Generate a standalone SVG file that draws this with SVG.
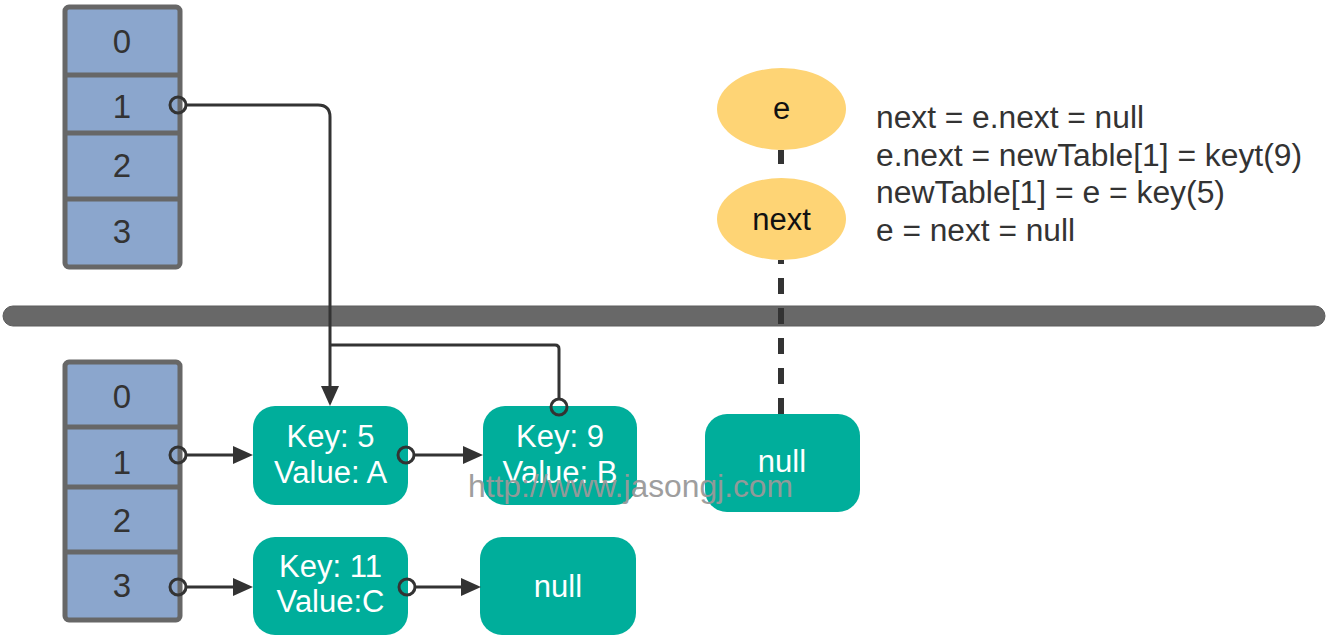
<svg xmlns="http://www.w3.org/2000/svg" width="1328" height="636" viewBox="0 0 1328 636">
<style>
.tbl{fill:#8ba6cd;stroke:#676767;stroke-width:5}
.div{stroke:#676767;stroke-width:5}
.dig{font-family:"Liberation Sans",Arial,sans-serif;font-size:33px;fill:#333;text-anchor:middle}
.node{fill:#00ae9b}
.nt{font-family:"Liberation Sans",Arial,sans-serif;font-size:31px;fill:#fff;text-anchor:middle}
.ell{fill:#fed475}
.et{font-family:"Liberation Sans",Arial,sans-serif;font-size:31px;fill:#111;text-anchor:middle}
.code{font-family:"Liberation Sans",Arial,sans-serif;font-size:31px;fill:#333}
.ln{fill:none;stroke:#333;stroke-width:3}
.dot{fill:none;stroke:#333;stroke-width:3}
.dash{fill:none;stroke:#333;stroke-width:6}
.wm{font-family:"Liberation Sans",Arial,sans-serif;font-size:31px;fill:#999;opacity:0.95}
</style>
<defs>
<marker id="arr" markerUnits="userSpaceOnUse" markerWidth="20" markerHeight="20" refX="4" refY="10" orient="auto">
<path d="M0,1 L20,10 L0,19 z" fill="#333"/>
</marker>
</defs>
<rect width="1328" height="636" fill="#fff"/>

<g id="divider">
<rect x="3" y="306" width="1322" height="20" rx="10" fill="#686868" stroke="#5c5c5c" stroke-width="1"/>
</g>

<g id="old-table">
<rect class="tbl" x="65" y="7" width="115" height="260" rx="4"/>
<line class="div" x1="65" y1="75" x2="180" y2="75"/>
<line class="div" x1="65" y1="133" x2="180" y2="133"/>
<line class="div" x1="65" y1="199" x2="180" y2="199"/>
<text class="dig" x="122" y="53">0</text>
<text class="dig" x="122" y="118">1</text>
<text class="dig" x="122" y="177">2</text>
<text class="dig" x="122" y="243">3</text>
</g>

<g id="new-table">
<rect class="tbl" x="65" y="362" width="115" height="258" rx="4"/>
<line class="div" x1="65" y1="427" x2="180" y2="427"/>
<line class="div" x1="65" y1="487" x2="180" y2="487"/>
<line class="div" x1="65" y1="552" x2="180" y2="552"/>
<text class="dig" x="122" y="408">0</text>
<text class="dig" x="122" y="474">1</text>
<text class="dig" x="122" y="532">2</text>
<text class="dig" x="122" y="597">3</text>
</g>

<g id="node-key5">
<rect class="node" x="253" y="406" width="155" height="99" rx="22"/>
<text class="nt" x="330.5" y="447">Key: 5</text>
<text class="nt" x="330.5" y="483">Value: A</text>
</g>
<g id="node-key9">
<rect class="node" x="483" y="406" width="154" height="99" rx="22"/>
<text class="nt" x="560" y="447">Key: 9</text>
<text class="nt" x="560" y="483">Value: B</text>
</g>
<g id="node-null-right">
<rect class="node" x="705" y="414" width="155" height="98" rx="22"/>
<text class="nt" x="782" y="472">null</text>
</g>
<g id="node-key11">
<rect class="node" x="253" y="537" width="155" height="98" rx="22"/>
<text class="nt" x="330.5" y="577">Key: 11</text>
<text class="nt" x="330.5" y="612">Value:C</text>
</g>
<g id="node-null-bottom">
<rect class="node" x="480" y="537" width="156" height="98" rx="22"/>
<text class="nt" x="558" y="597">null</text>
</g>

<g id="node-e">
<ellipse class="ell" cx="781.5" cy="109" rx="64.5" ry="41"/>
<text class="et" x="781.5" y="119">e</text>
</g>
<g id="node-next">
<ellipse class="ell" cx="781.5" cy="219" rx="64.5" ry="41"/>
<text class="et" x="781.5" y="230">next</text>
</g>

<g id="connectors">
<path class="ln" d="M186,105 H318 Q330,105 330,117 V390" marker-end="url(#arr)"/>
<path class="ln" d="M559,399 V349 Q559,345 555,345 H330"/>
<path class="ln" d="M186,455 H237" marker-end="url(#arr)"/>
<path class="ln" d="M414,455 H467" marker-end="url(#arr)"/>
<path class="ln" d="M186,587 H237" marker-end="url(#arr)"/>
<path class="ln" d="M415,587 H465" marker-end="url(#arr)"/>
<circle class="dot" cx="178" cy="105" r="8"/>
<circle class="dot" cx="178" cy="455" r="8"/>
<circle class="dot" cx="406" cy="455" r="8"/>
<circle class="dot" cx="178" cy="587" r="8"/>
<circle class="dot" cx="407" cy="587" r="8"/>
<circle class="dot" cx="559" cy="407" r="8"/>
<path class="dash" d="M781,150 V178" stroke-dasharray="14 16"/>
<path class="dash" d="M781,260 V414" stroke-dasharray="16 14" stroke-dashoffset="12"/>
</g>

<g id="code">
<text class="code" x="876" y="128" textLength="268" lengthAdjust="spacingAndGlyphs">next = e.next = null</text>
<text class="code" x="876" y="166" textLength="426" lengthAdjust="spacingAndGlyphs">e.next = newTable[1] = keyt(9)</text>
<text class="code" x="876" y="203" textLength="349" lengthAdjust="spacingAndGlyphs">newTable[1] = e = key(5)</text>
<text class="code" x="876" y="241" textLength="199" lengthAdjust="spacingAndGlyphs">e = next = null</text>
</g>

<text class="wm" x="468" y="497" textLength="325" lengthAdjust="spacingAndGlyphs">http://www.jasongj.com</text>
</svg>
